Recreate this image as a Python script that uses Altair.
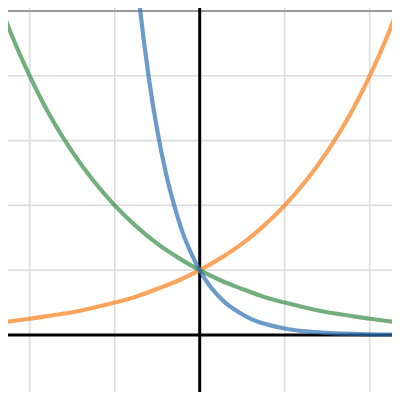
import altair as alt
import pandas as pd

# Values
orange_x = [-2.3, -2.0, -1.75, -1.5, -1.25, -1.0, -0.75, -0.5, -0.25, 0.0, 0.25, 0.5, 0.75, 1.0, 1.25, 1.5, 1.75, 2.0, 2.2, 2.4]
orange_y = [0.20, 0.25, 0.30, 0.35, 0.42, 0.50, 0.59, 0.71, 0.84, 1.00, 1.19, 1.41, 1.68, 2.00, 2.38, 2.83, 3.36, 4.00, 4.59, 5.28]

green_x = [-2.4, -2.2, -2.0, -1.75, -1.5, -1.25, -1.0, -0.75, -0.5, -0.25, 0.0, 0.25, 0.5, 0.75, 1.0, 1.25, 1.5, 1.75, 2.0, 2.3]
green_y = [5.28, 4.59, 4.00, 3.36, 2.83, 2.38, 2.00, 1.68, 1.41, 1.19, 1.00, 0.84, 0.71, 0.59, 0.50, 0.42, 0.35, 0.30, 0.25, 0.20]

blue_x = [-0.8, -0.7, -0.6, -0.5, -0.4, -0.3, -0.2, -0.1, 0.0, 0.1, 0.2, 0.3, 0.4, 0.5, 0.6, 0.8, 1.0, 1.25, 1.5, 2.0, 2.4]
blue_y = [6.31, 5.01, 3.98, 3.16, 2.51, 2.00, 1.58, 1.26, 1.00, 0.79, 0.63, 0.50, 0.40, 0.32, 0.25, 0.16, 0.10, 0.056, 0.032, 0.010, 0.004]

grid_x = [-2, -1, 1, 2]
grid_y = [1, 2, 3, 4]
top_line_y = [5]

series_names = ["blue", "green", "orange"]
series_colors = ["#2d70b3", "#388c46", "#fa7e19"]

rows = []
for name, xs_, ys_ in [("orange", orange_x, orange_y), ("green", green_x, green_y), ("blue", blue_x, blue_y)]:
    for xv, yv in zip(xs_, ys_):
        rows.append({"x": xv, "y": yv, "s": name})
curves = pd.DataFrame(rows)

xs = alt.Scale(domain=[-2.255, 2.262], nice=False, zero=False)
ys = alt.Scale(domain=[-0.880, 5.046], nice=False, zero=False)

gridv = alt.Chart(pd.DataFrame({"x": grid_x})).mark_rule(color="#dcdcdc", strokeWidth=1.6).encode(
    x=alt.X("x:Q", scale=xs, axis=None))
gridh = alt.Chart(pd.DataFrame({"y": grid_y})).mark_rule(color="#dcdcdc", strokeWidth=1.6).encode(
    y=alt.Y("y:Q", scale=ys, axis=None))
topline = alt.Chart(pd.DataFrame({"y": top_line_y})).mark_rule(color="#9a9a9a", strokeWidth=1.8).encode(
    y=alt.Y("y:Q", scale=ys, axis=None))
axis_x = alt.Chart(pd.DataFrame({"x": [0]})).mark_rule(color="black", strokeWidth=3).encode(
    x=alt.X("x:Q", scale=xs, axis=None))
axis_y = alt.Chart(pd.DataFrame({"y": [0]})).mark_rule(color="black", strokeWidth=3).encode(
    y=alt.Y("y:Q", scale=ys, axis=None))

lines = alt.Chart(curves).mark_line(strokeWidth=4.2, strokeOpacity=0.7, clip=True, interpolate="monotone", strokeCap="round").encode(
    x=alt.X("x:Q", scale=xs, axis=None),
    y=alt.Y("y:Q", scale=ys, axis=None),
    color=alt.Color("s:N", scale=alt.Scale(domain=series_names, range=series_colors), legend=None),
    order=alt.Order("x:Q"),
)

chart = alt.layer(gridv, gridh, topline, axis_x, axis_y, lines).properties(
    width=384, height=384, padding=0, autosize=alt.AutoSizeParams(type="none")
).configure_view(stroke=None)

chart.save("out.html", embed_options={"renderer": "svg", "actions": False})
